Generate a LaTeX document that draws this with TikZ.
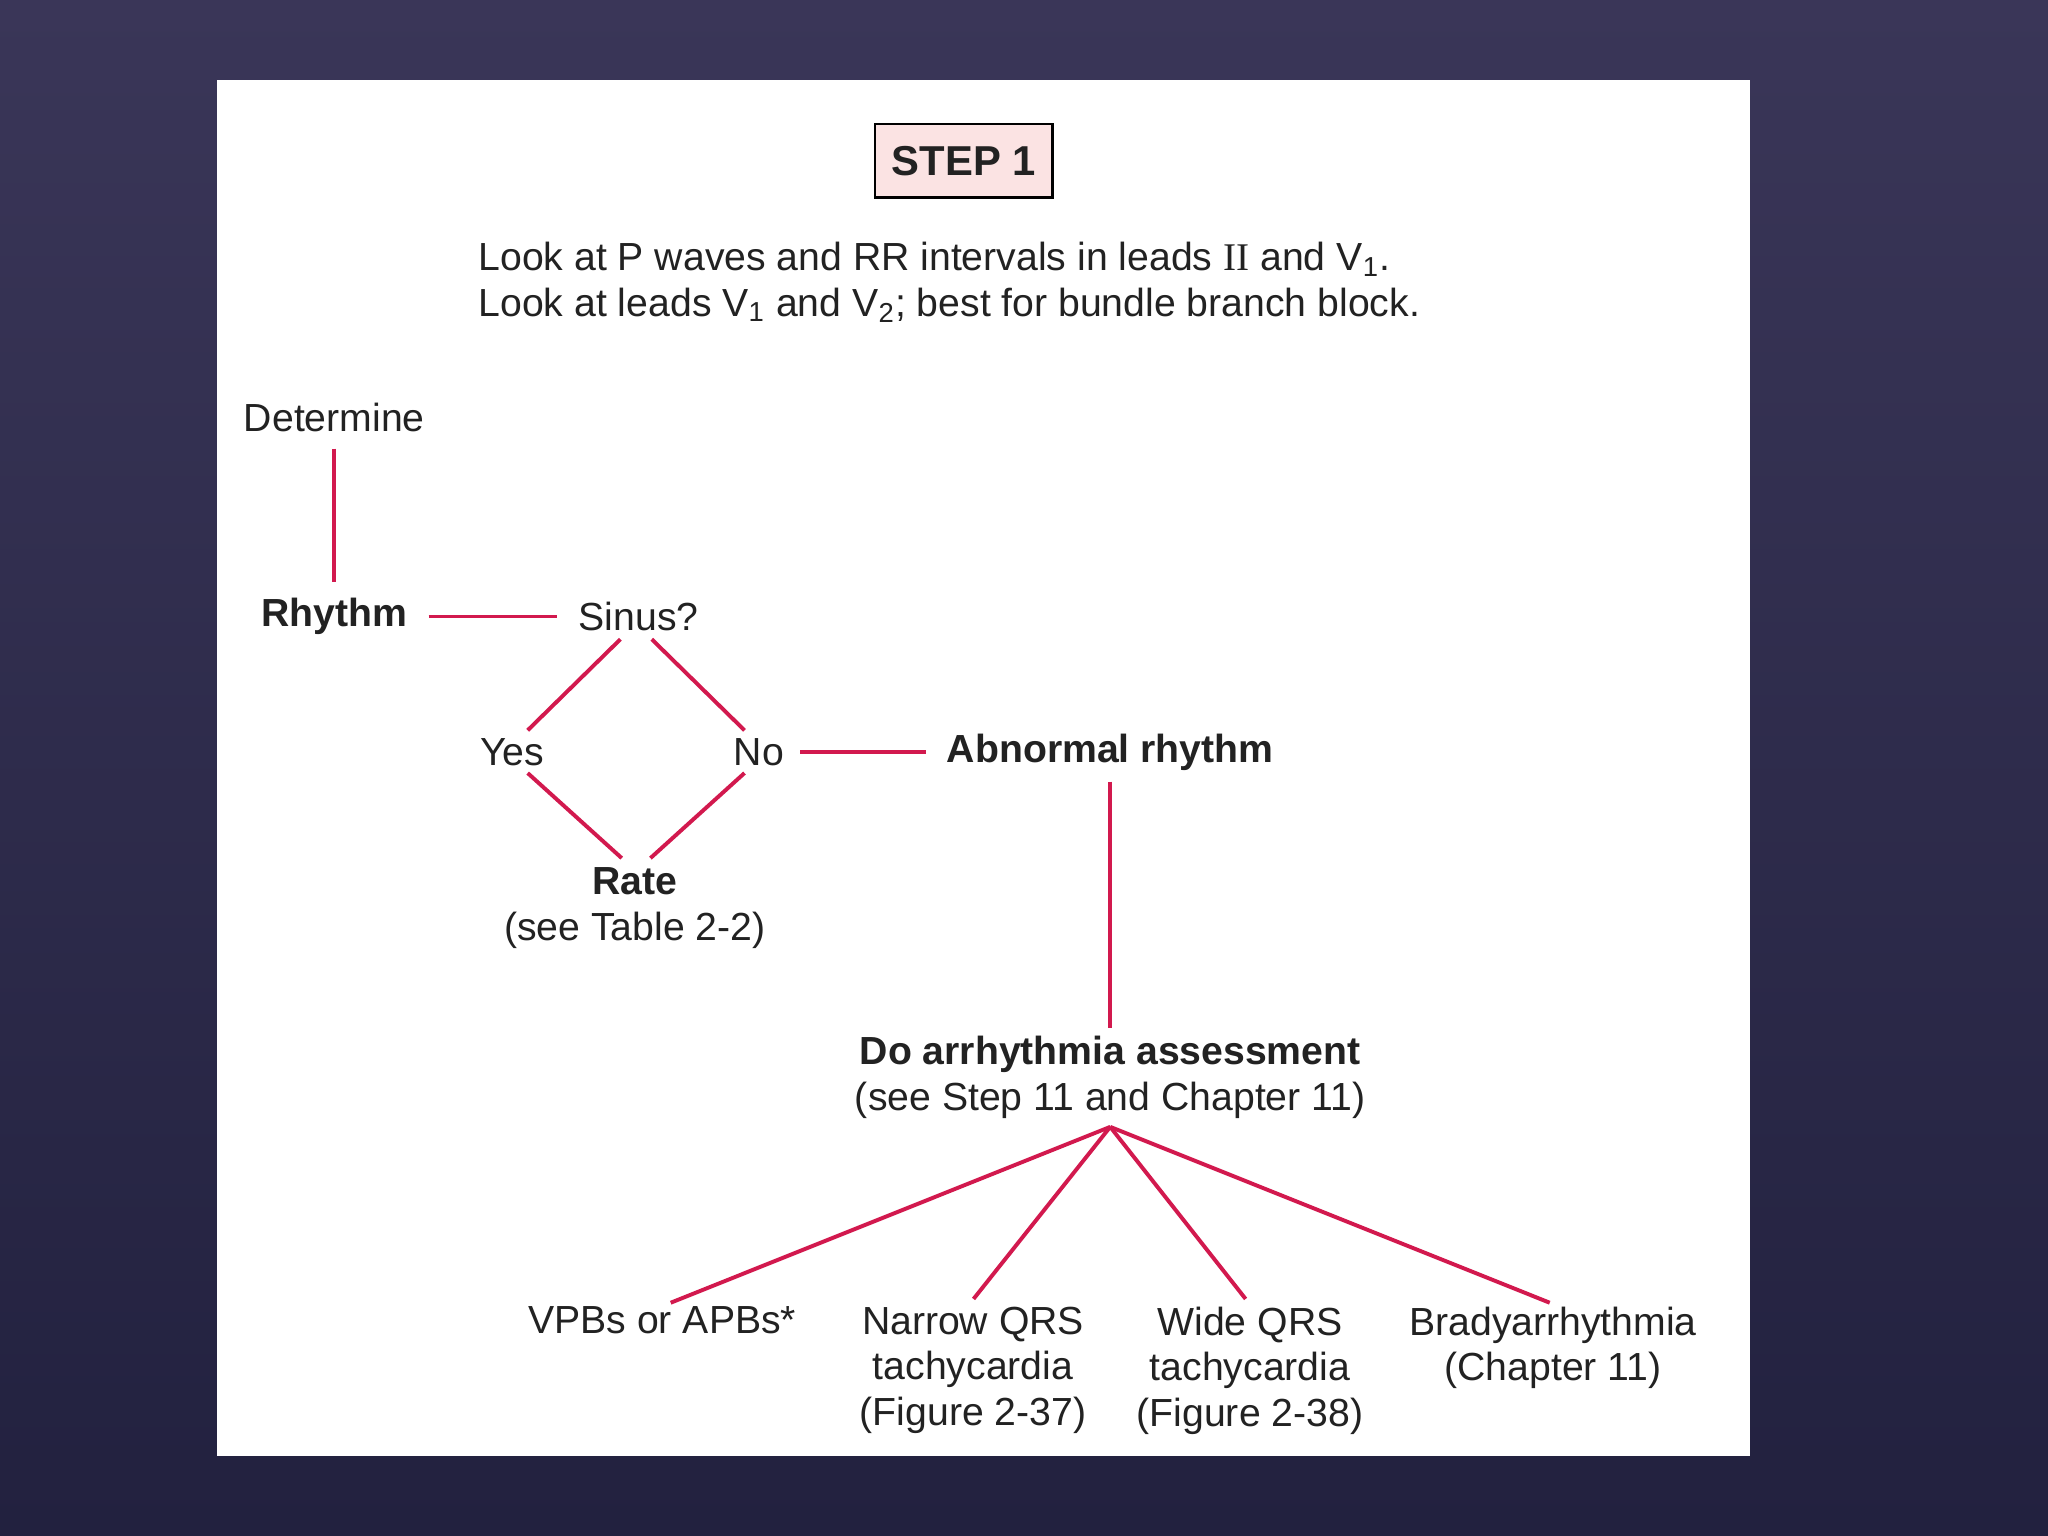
\documentclass[tikz,border=0pt]{standalone}
\usepackage{fontspec}
\setmainfont{Liberation Sans}
\newfontfamily\serifii{Liberation Serif}
\usetikzlibrary{calc}
\definecolor{bgtop}{HTML}{3A3658}
\definecolor{bgbot}{HTML}{22213F}
\definecolor{conn}{HTML}{D2194E}
\definecolor{steppink}{HTML}{FBE3E3}
\definecolor{txt}{HTML}{222222}
\begin{document}
\begin{tikzpicture}[x=0.5pt,y=-0.5pt,
  lbl/.style={inner sep=0pt,text=txt,font=\fontsize{15}{17.5}\selectfont,align=center},
  blbl/.style={lbl,font=\fontsize{15}{17.5}\selectfont\bfseries},
  link/.style={draw=conn,line width=1.5pt}]
\useasboundingbox (0,0) rectangle (1568,1176);
\shade[top color=bgtop,bottom color=bgbot] (0,0) rectangle (1568,1176);
\fill[white] (166,61) rectangle (1340,1115);
\node[draw=black,line width=1pt,fill=steppink,minimum width=68pt,minimum height=28pt,font=\fontsize{16}{18}\selectfont\bfseries,text=txt] (stepbox) at (738,123) {STEP 1};
\node[lbl,anchor=base west] (h1) at (366,207) {Look at P waves and RR intervals in leads {\serifii II} and V\textsubscript{1}.};
\node[lbl,anchor=base west] (h2) at (366,242) {Look at leads V\textsubscript{1} and V\textsubscript{2}; best for bundle branch block.};
\node[lbl] (det) at (256,320) {Determine};
\node[blbl] (rhy) at (256,472) {Rhythm};
\node[lbl] (sin) at (489,472) {Sinus?};
\node[lbl] (yes) at (392,576) {Yes};
\node[lbl] (no) at (581,576) {No};
\node[blbl] (abn) at (850,576) {Abnormal rhythm};
\node[lbl,anchor=north] (rate) at (486,664) {\textbf{Rate}\\(see Table 2-2)};
\node[lbl,anchor=north] (doa) at (850,793) {\textbf{Do arrhythmia assessment}\\(see Step 11 and Chapter 11)};
\node[lbl,anchor=north] (vpb) at (507,1000) {VPBs or APBs*};
\node[lbl,anchor=north] (nar) at (745,1000) {Narrow QRS\\tachycardia\\(Figure 2-37)};
\node[lbl,anchor=north] (wid) at (957,1000) {Wide QRS\\tachycardia\\(Figure 2-38)};
\node[lbl,anchor=north] (bra) at (1189,1000) {Bradyarrhythmia\\(Chapter 11)};
\coordinate (fan) at ($(doa.south)+(0,6)$);
\draw[link,shorten <=6pt,shorten >=6pt] (det) -- (rhy);
\draw[link,shorten <=8pt,shorten >=8pt] (rhy) -- (sin);
\draw[link] ($(sin.south)+(-14,6)$) -- ($(yes.north)+(12,-6)$);
\draw[link] ($(sin.south)+(10,6)$) -- ($(no.north)+(-11,-6)$);
\draw[link] ($(yes.south)+(12,5)$) -- ($(rate.north)+(-10,-7)$);
\draw[link] ($(no.south)+(-11,5)$) -- ($(rate.north)+(12,-7)$);
\draw[link,shorten <=6pt,shorten >=8pt] (no) -- (abn);
\draw[link,shorten <=4pt,shorten >=3pt] (abn) -- (doa);
\draw[link,shorten >=3.5pt] (fan) -- (vpb.north);
\draw[link,shorten >=3.5pt] (fan) -- ($(nar.north)+(-4,0)$);
\draw[link,shorten >=3.5pt] (fan) -- ($(wid.north)+(1,0)$);
\draw[link,shorten >=3.5pt] (fan) -- ($(bra.north)+(4,0)$);
\end{tikzpicture}
\end{document}
